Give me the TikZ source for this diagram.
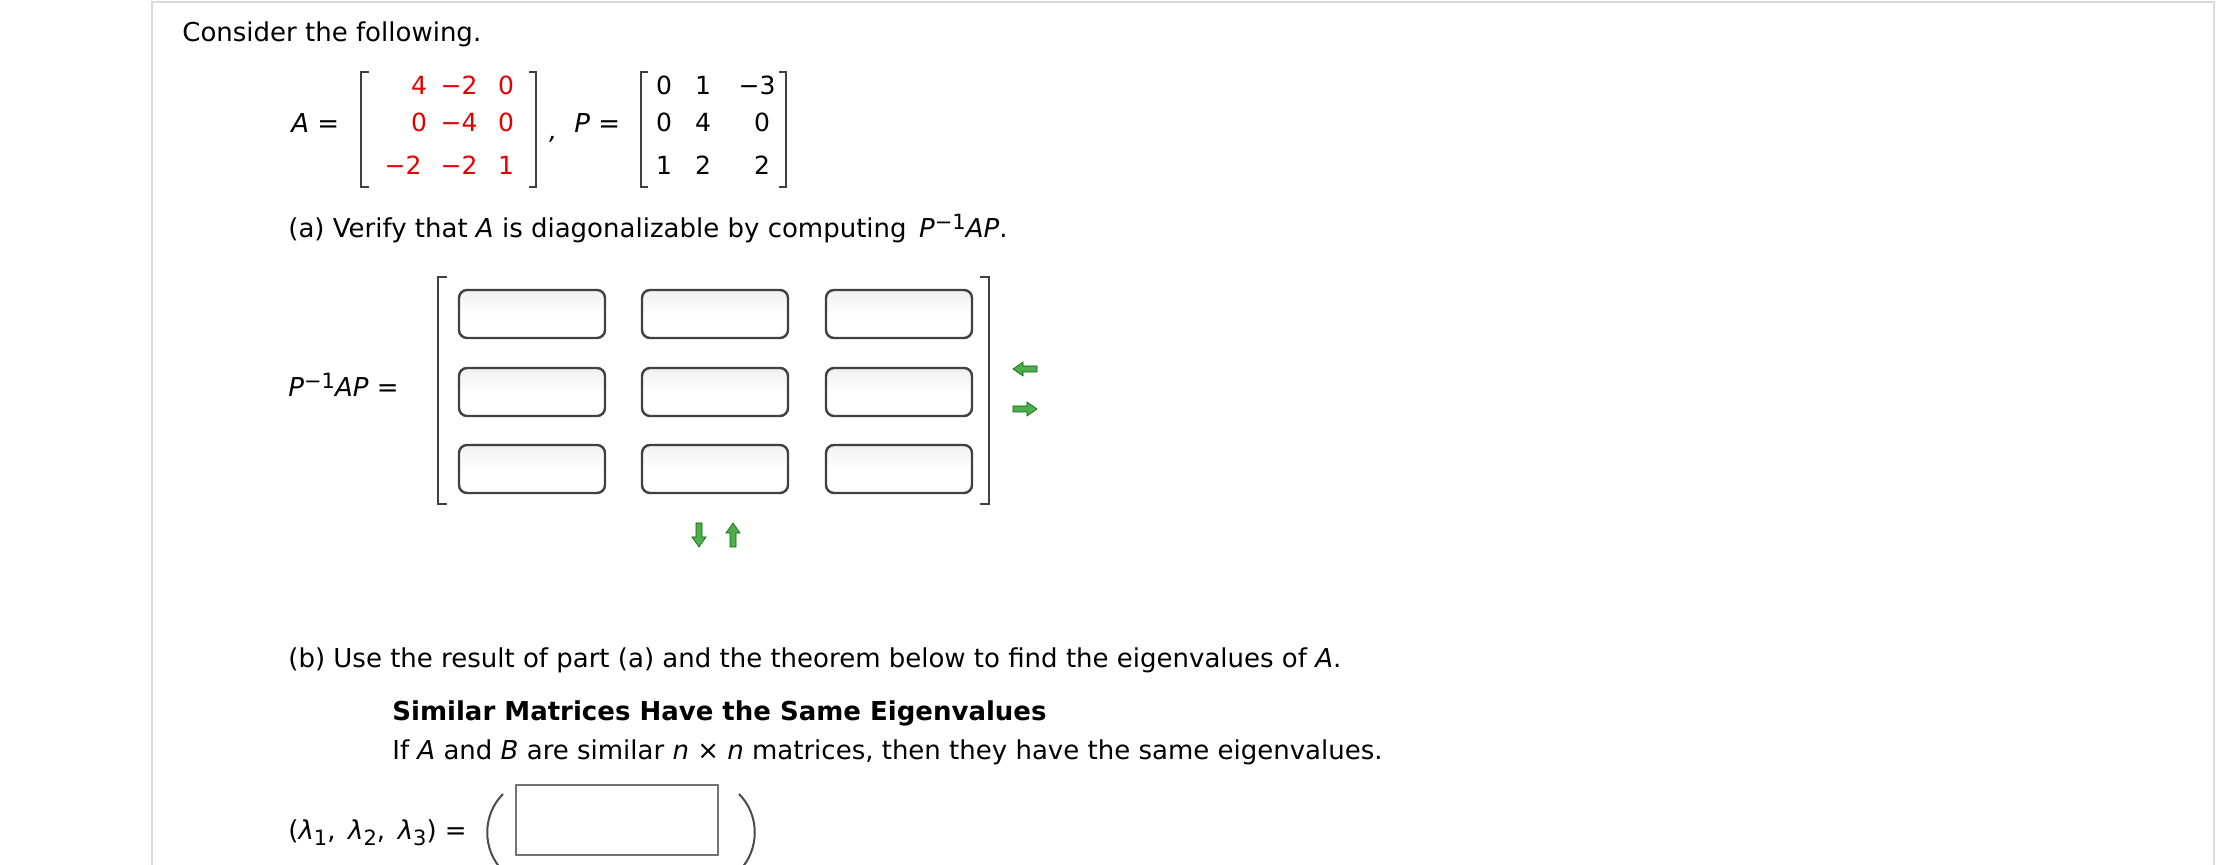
\documentclass[tikz,border=0pt]{standalone}
\usepackage{fontspec}
\setmainfont{DejaVu Sans}
\begin{document}
\begin{tikzpicture}[x=0.5pt,y=-0.5pt,
  txt/.style={inner sep=0pt,anchor=base west,font=\fontsize{13pt}{15pt}\selectfont},
  ent/.style={inner sep=0pt,anchor=base,font=\fontsize{12.5pt}{15pt}\selectfont},
  cell/.style={draw=black!75,line width=1.2pt,rounded corners=4pt,minimum width=73pt,minimum height=24pt,inner sep=0pt,top color=black!6,bottom color=white,middle color=white},
  brk/.style={line width=1.3pt,draw=black!75},
  garrow/.style={fill=green!55!black!70,draw=green!40!black,line width=0.3pt}]
\useasboundingbox (0,0) rectangle (2224,865);
\fill[white] (0,0) rectangle (2224,865);
\draw[black!15,line width=1pt] (152,865) -- (152,2) -- (2214,2) -- (2214,865);
\node[txt] (t0) at (182,42) {Consider the following.};
% A
\node[txt] (Aeq) at (291,133) {\textit{A} =};
\draw[brk] (369,72) -- (361,72) -- (361,187) -- (369,187);
\draw[brk] (529,72) -- (536,72) -- (536,187) -- (529,187);
\begin{scope}[every node/.style={ent,text=red!90!black}]
\node (a11) at (419,95) {4}; \node (a12) at (459,95) {−2}; \node (a13) at (506,95) {0};
\node (a21) at (419,132) {0}; \node (a22) at (459,132) {−4}; \node (a23) at (506,132) {0};
\node (a31) at (403,175) {−2}; \node (a32) at (459,175) {−2}; \node (a33) at (506,175) {1};
\end{scope}
\node[ent] (comma) at (553,140) {\textit{,}};
\node[txt] (Peq) at (574,133) {\textit{P} =};
\draw[brk] (648,72) -- (641,72) -- (641,187) -- (648,187);
\draw[brk] (779,72) -- (786,72) -- (786,187) -- (779,187);
\node[ent] (p11) at (664,95) {0}; \node[ent] (p12) at (703,95) {1}; \node[ent] (p13) at (757,95) {−3};
\node[ent] (p21) at (664,132) {0}; \node[ent] (p22) at (703,132) {4}; \node[ent] (p23) at (762,132) {0};
\node[ent] (p31) at (664,175) {1}; \node[ent] (p32) at (703,175) {2}; \node[ent] (p33) at (762,175) {2};
\node[txt] (qa) at (288,238) {(a) Verify that \textit{A} is diagonalizable by computing \,\textit{P}\raisebox{0.6ex}{\fontsize{10.5pt}{12pt}\selectfont −1}\textit{AP}.};
% big matrix
\node[txt] (peq2) at (288,397) {\textit{P}\raisebox{0.6ex}{\fontsize{10.5pt}{12pt}\selectfont −1}\textit{AP} =};
\draw[brk] (447,277) -- (438,277) -- (438,504) -- (447,504);
\draw[brk] (980,277) -- (989,277) -- (989,504) -- (980,504);
\foreach \c/\x in {1/532,2/715,3/899}{
  \foreach \r/\y in {1/318,2/396,3/473}{
    \node[cell] (c\r\c) at (\x,\y-4) {};
  }}
% green arrows
\draw[garrow] (1013,369) -- (1023,362) -- (1023,366) -- (1037,366) -- (1037,372) -- (1023,372) -- (1023,376) -- cycle;
\draw[garrow] (1037,409) -- (1027,402) -- (1027,406) -- (1013,406) -- (1013,412) -- (1027,412) -- (1027,416) -- cycle;
\draw[garrow] (699,547) -- (692,537) -- (696,537) -- (696,523) -- (702,523) -- (702,537) -- (706,537) -- cycle;
\draw[garrow] (733,523) -- (726,533) -- (730,533) -- (730,547) -- (736,547) -- (736,533) -- (740,533) -- cycle;
% part b
\node[txt] (qb) at (288,668) {(b) Use the result of part (a) and the theorem below to find the eigenvalues of \textit{A}.};
\node[txt,font=\fontsize{13pt}{15pt}\selectfont\bfseries] (th) at (392,721) {Similar Matrices Have the Same Eigenvalues};
\node[txt] (th2) at (392,760) {If \textit{A} and \textit{B} are similar \textit{n} × \textit{n} matrices, then they have the same eigenvalues.};
\node[txt] (lam) at (288,840) {(\textit{λ}\raisebox{-0.4ex}{\fontsize{10.5pt}{12pt}\selectfont 1}, \,\textit{λ}\raisebox{-0.4ex}{\fontsize{10.5pt}{12pt}\selectfont 2}, \,\textit{λ}\raisebox{-0.4ex}{\fontsize{10.5pt}{12pt}\selectfont 3}) =};
\draw[black!70,line width=1pt] (503,794) .. controls (482,815) and (482,850) .. (503,871);
\draw[black!70,line width=1pt] (739,794) .. controls (760,815) and (760,850) .. (739,871);
\node[draw=black!55,line width=1.3pt,minimum width=101pt,minimum height=35pt,inner sep=0pt] (ans) at (617,820) {};
\end{tikzpicture}
\end{document}
